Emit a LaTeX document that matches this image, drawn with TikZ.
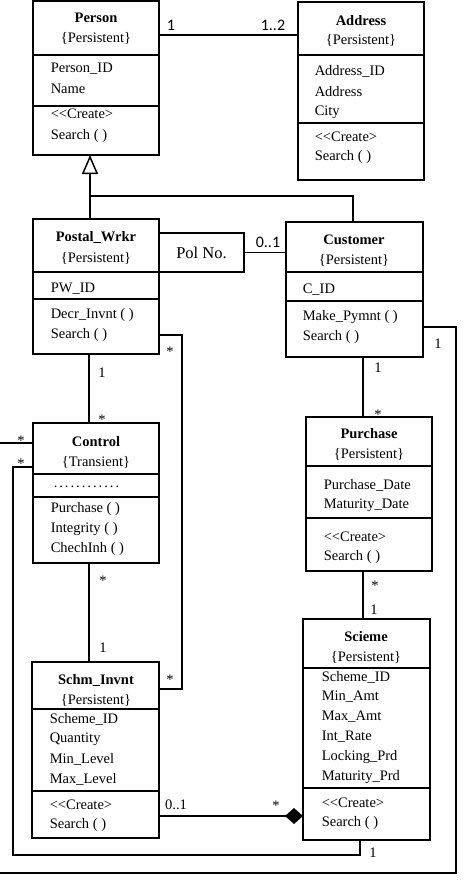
\documentclass[tikz,border=0pt]{standalone}
\usepackage{fontspec}
\setmainfont{Liberation Serif}
\newfontfamily\labelfont{Carlito}
\usetikzlibrary{arrows.meta}
\usetikzlibrary{positioning}

\newcommand{\classline}[2]{\draw (#1.west |- 0,#2) -- (#1.east |- 0,#2);}
\newcommand{\dotrow}{.\kern2bp.\kern2bp.\kern2bp.\kern2bp.\kern2bp.\kern2bp.\kern2bp.\kern2bp.\kern2bp.\kern2bp.\kern2bp.}

\begin{document}
\begin{tikzpicture}[x=1bp,y=-1bp,line width=1.5bp,
  font=\fontsize{14.5bp}{17bp}\selectfont,
  classbox/.style={draw,inner sep=0pt,outer sep=0pt,anchor=north west},
  classname/.style={inner sep=0pt,font=\fontsize{14.5bp}{17bp}\selectfont\bfseries},
  stereo/.style={inner sep=0pt},
  member/.style={anchor=west,inner sep=0pt},
  mult/.style={inner sep=0pt},
  smult/.style={inner sep=0pt,font=\labelfont\fontsize{16bp}{18bp}\selectfont}]
\useasboundingbox (0,0) rectangle (474,883);
% Person
\node[classbox,minimum width=126bp,minimum height=154bp] (person) at (33,1) {};
\node[classname] (person-n) at (96,18) {Person};
\node[stereo] (person-s) at (96,38) {\{Persistent\}};
\classline{person}{55}
\classline{person}{106}
\foreach \t/\y [count=\i] in {Person\_ID/69,Name/89,<\kern0pt<Create>/114,Search ( )/136}
  \node[member] (person-m\i) at (50,\y) {\t};
% Address
\node[classbox,minimum width=126bp,minimum height=178bp] (address) at (298,2) {};
\node[classname] (address-n) at (361,21) {Address};
\node[stereo] (address-s) at (361,40) {\{Persistent\}};
\classline{address}{55}
\classline{address}{123}
\foreach \t/\y [count=\i] in {Address\_ID/71,Address/92,City/112,<\kern0pt<Create>/137,Search ( )/157}
  \node[member] (address-m\i) at (314,\y) {\t};
% Postal_Wrkr
\node[classbox,minimum width=126bp,minimum height=135bp] (postal) at (33,219) {};
\node[classname] (postal-n) at (96,237) {Postal\_Wrkr};
\node[stereo] (postal-s) at (96,258) {\{Persistent\}};
\classline{postal}{272}
\classline{postal}{299}
\foreach \t/\y [count=\i] in {PW\_ID/289,Decr\_Invnt ( )/315,Search ( )/335}
  \node[member] (postal-m\i) at (50,\y) {\t};
\node[classbox,minimum width=85bp,minimum height=39bp,font=\fontsize{16.5bp}{18bp}\selectfont] (polno) at (159,233) {Pol No.};
% Customer
\node[classbox,minimum width=137bp,minimum height=135bp] (customer) at (286,222) {};
\node[classname] (customer-n) at (354,240) {Customer};
\node[stereo] (customer-s) at (354,260) {\{Persistent\}};
\classline{customer}{272}
\classline{customer}{301}
\foreach \t/\y [count=\i] in {C\_ID/290,Make\_Pymnt ( )/317,Search ( )/337}
  \node[member] (customer-m\i) at (302,\y) {\t};
% Control
\node[classbox,minimum width=126bp,minimum height=140bp] (control) at (33,423) {};
\node[classname] (control-n) at (96,442) {Control};
\node[stereo] (control-s) at (96,462) {\{Transient\}};
\classline{control}{474}
\classline{control}{497}
\node[member] (control-d) at (53,487) {\dotrow};
\foreach \t/\y [count=\i] in {Purchase ( )/509,Integrity ( )/529,ChechInh ( )/549}
  \node[member] (control-m\i) at (50,\y) {\t};
% Purchase
\node[classbox,minimum width=126bp,minimum height=154bp] (purchase) at (306,417) {};
\node[classname] (purchase-n) at (369,434) {Purchase};
\node[stereo] (purchase-s) at (369,454) {\{Persistent\}};
\classline{purchase}{466}
\classline{purchase}{518}
\foreach \t/\y [count=\i] in {Purchase\_Date/485,Maturity\_Date/505,<\kern0pt<Create>/537,Search ( )/557}
  \node[member] (purchase-m\i) at (323,\y) {\t};
% Scheme
\node[classbox,minimum width=127bp,minimum height=221bp] (scheme) at (303,619) {};
\node[classname] (scheme-n) at (366,637) {Scieme};
\node[stereo] (scheme-s) at (366,657) {\{Persistent\}};
\classline{scheme}{668}
\classline{scheme}{788}
\foreach \t/\y [count=\i] in {Scheme\_ID/677,Min\_Amt/697,Max\_Amt/717,Int\_Rate/737,Locking\_Prd/757,Maturity\_Prd/777,<\kern0pt<Create>/803,Search ( )/823}
  \node[member] (scheme-m\i) at (321,\y) {\t};
% Schm_Invnt
\node[classbox,minimum width=127bp,minimum height=176bp] (schm) at (32,662) {};
\node[classname] (schm-n) at (96,680) {Schm\_Invnt};
\node[stereo] (schm-s) at (96,700) {\{Persistent\}};
\classline{schm}{709}
\classline{schm}{791}
\foreach \t/\y [count=\i] in {Scheme\_ID/719,Quantity/739,Min\_Level/759,Max\_Level/779,<\kern0pt<Create>/805,Search ( )/825}
  \node[member] (schm-m\i) at (49,\y) {\t};

% generalization
\coordinate (genjoin) at (90,196);
\draw[-{Triangle[open,length=19bp,width=16bp]}] (postal.north -| 90,0) -- (person.south -| 90,0);
\draw (genjoin) -| (customer.north -| 353,0);
% associations
\draw (person.east |- 0,35) -- (address.west |- 0,35);
\node[smult] (pa-1) at (171,25) {1};
\node[smult] (pa-2) at (273,25) {1..2};
\draw (polno.east) -- (customer.west |- polno.east);
\node[smult] (pc-1) at (268,242) {0..1};
\draw (postal.south -| 89,0) -- (control.north -| 89,0);
\node[mult] (pk-1) at (102,373) {1};
\node[mult] (pk-2) at (102,420) {*};
\draw (postal.east |- 0,335) -| (182,689) -- (schm.east |- 0,689);
\node[mult] (ps-1) at (170,352) {*};
\node[mult] (ps-2) at (170,680) {*};
\draw (customer.south -| 363,0) -- (purchase.north -| 363,0);
\node[mult] (cp-1) at (378,368) {1};
\node[mult] (cp-2) at (378,415) {*};
\draw (customer.east |- 0,327) -| (456,873) -| (-4,443) -- (control.west |- 0,443);
\node[mult] (ck-1) at (438,344) {1};
\node[mult] (ck-2) at (21,441) {*};
\draw (scheme.south -| 360,0) |- (13,855) |- (control.west |- 0,467);
\node[mult] (sk-1) at (373,853) {1};
\node[mult] (sk-2) at (21,464) {*};
\draw (control.south -| 89,0) -- (schm.north -| 89,0);
\node[mult] (ki-1) at (103,581) {*};
\node[mult] (ki-2) at (103,648) {1};
\draw (purchase.south -| 363,0) -- (scheme.north -| 363,0);
\node[mult] (pu-1) at (375,586) {*};
\node[mult] (pu-2) at (374,610) {1};
% aggregation
\draw[{Diamond[length=18bp,width=16bp]}-] (scheme.west |- 0,816) -- (schm.east |- 0,816);
\node[mult] (ag-1) at (176,805) {0..1};
\node[mult] (ag-2) at (276,806) {*};
\end{tikzpicture}
\end{document}
